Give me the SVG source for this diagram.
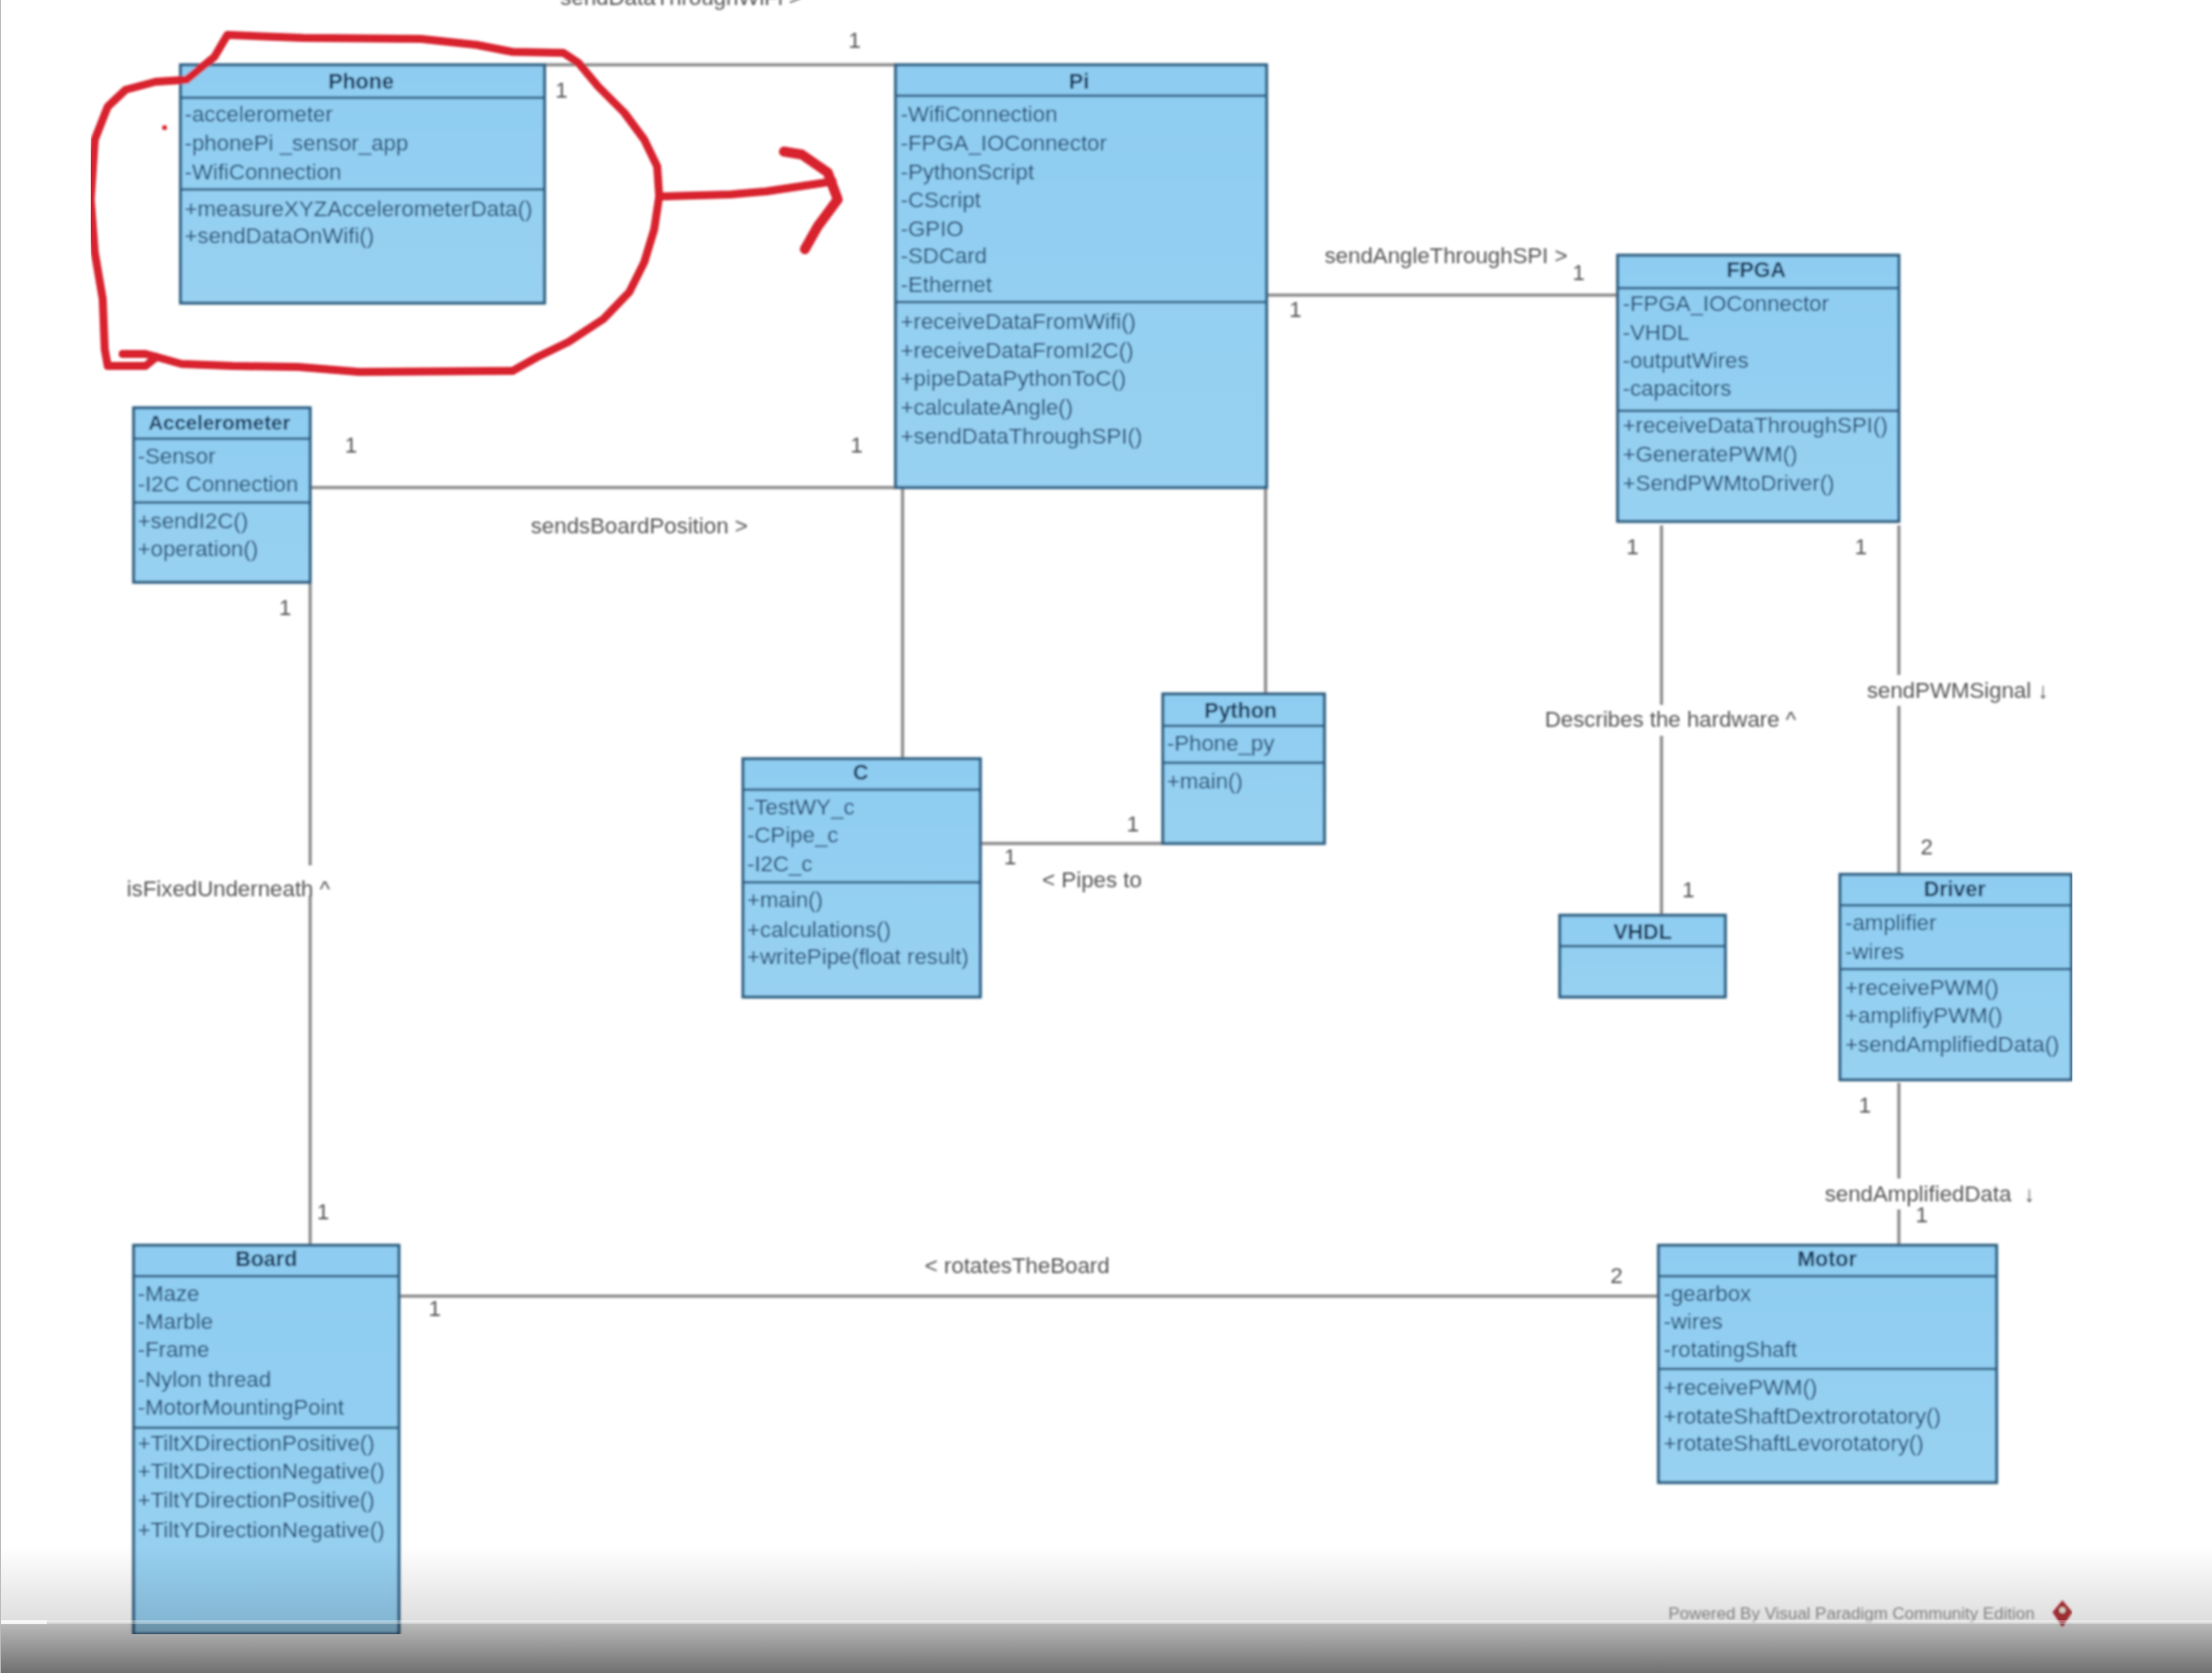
<svg xmlns="http://www.w3.org/2000/svg" width="2218" height="1678" viewBox="0 0 2218 1678">
<style>
text{font-family:"Liberation Sans",Arial,sans-serif;font-size:22.3px;fill:#21496f}
.t{font-weight:bold;text-anchor:middle;font-size:21.5px;fill:#16375a}
.c{fill:#555;text-anchor:middle}
.b{fill:url(#f);stroke:#2f5f82;stroke-width:3}
.s{stroke:#2f5f82;stroke-width:2.5;fill:none}
.k{stroke:#858585;stroke-width:3;fill:none}
.r{stroke:#d8222f;stroke-width:8;fill:none;stroke-linejoin:round;stroke-linecap:round}
</style>
<defs>
<linearGradient id="f" x1="0" y1="0" x2="0" y2="1"><stop offset="0" stop-color="#8ecdf1"/><stop offset="1" stop-color="#98d1f2"/></linearGradient>
<linearGradient id="v" x1="0" y1="0" x2="0" y2="1"><stop offset="0" stop-color="#000" stop-opacity="0"/><stop offset="0.6" stop-color="#000" stop-opacity="0.13"/><stop offset="0.61" stop-color="#000" stop-opacity="0.27"/><stop offset="1" stop-color="#000" stop-opacity="0.56"/></linearGradient>
<filter id="blur" x="0" y="0" width="1" height="1"><feGaussianBlur stdDeviation="1"/></filter>
</defs>
<rect width="2218" height="1678" fill="#fff"/>
<g filter="url(#blur)">
<g id="connectors">
<path class="k" d="M546 65H898M1270 296H1622M311 489H898M905 489V761M1269 489V696M983 846H1166M1666 527V707M1666 738V918M1904 527V677M1904 708V877M1904 1086V1182M1904 1213V1249M311 585V868M311 898V1249M400 1300H1663"/>
</g>
<g id="labels">
<text class="c" x="683" y="5">sendDataThroughWiFi &gt;</text>
<text class="c" x="641" y="535">sendsBoardPosition &gt;</text>
<text class="c" x="1450" y="264">sendAngleThroughSPI &gt;</text>
<text class="c" x="1963" y="700">sendPWMSignal ↓</text>
<text class="c" x="1675" y="729">Describes the hardware ^</text>
<text class="c" x="229" y="899">isFixedUnderneath ^</text>
<text class="c" x="1020" y="1277">&lt; rotatesTheBoard</text>
<text class="c" x="1935" y="1205" xml:space="preserve">sendAmplifiedData  ↓</text>
<text class="c" x="1095" y="890">&lt; Pipes to</text>
<text class="c" x="857" y="48">1</text><text class="c" x="563" y="98">1</text><text class="c" x="859" y="454">1</text><text class="c" x="352" y="454">1</text>
<text class="c" x="1583" y="281">1</text><text class="c" x="1299" y="318">1</text><text class="c" x="1637" y="556">1</text><text class="c" x="1866" y="556">1</text>
<text class="c" x="1693" y="900">1</text><text class="c" x="1932" y="857">2</text><text class="c" x="286" y="617">1</text><text class="c" x="324" y="1223">1</text>
<text class="c" x="436" y="1320">1</text><text class="c" x="1621" y="1287">2</text><text class="c" x="1927" y="1226">1</text><text class="c" x="1870" y="1116">1</text>
<text class="c" x="1136" y="834">1</text><text class="c" x="1013" y="867">1</text>
</g>
<g id="phone"><rect class="b" x="181" y="65" width="365" height="239"/><path class="s" d="M181 98H546M181 190H546"/>
<text class="t" x="362" y="89">Phone</text>
<text x="185" y="122">-accelerometer</text><text x="185" y="151">-phonePi _sensor_app</text><text x="185" y="180">-WifiConnection</text>
<text x="185" y="217">+measureXYZAccelerometerData()</text><text x="185" y="244">+sendDataOnWifi()</text></g>
<g id="pi"><rect class="b" x="898" y="65" width="372" height="424"/><path class="s" d="M898 96H1270M898 303H1270"/>
<text class="t" x="1082" y="89">Pi</text>
<text x="903" y="122">-WifiConnection</text><text x="903" y="151">-FPGA_IOConnector</text><text x="903" y="180">-PythonScript</text><text x="903" y="208">-CScript</text><text x="903" y="237">-GPIO</text><text x="903" y="264">-SDCard</text><text x="903" y="293">-Ethernet</text>
<text x="903" y="330">+receiveDataFromWifi()</text><text x="903" y="359">+receiveDataFromI2C()</text><text x="903" y="387">+pipeDataPythonToC()</text><text x="903" y="416">+calculateAngle()</text><text x="903" y="445">+sendDataThroughSPI()</text></g>
<g id="fpga"><rect class="b" x="1622" y="256" width="282" height="267"/><path class="s" d="M1622 289H1904M1622 412H1904"/>
<text class="t" x="1761" y="278">FPGA</text>
<text x="1627" y="312">-FPGA_IOConnector</text><text x="1627" y="341">-VHDL</text><text x="1627" y="369">-outputWires</text><text x="1627" y="397">-capacitors</text>
<text x="1627" y="434">+receiveDataThroughSPI()</text><text x="1627" y="463">+GeneratePWM()</text><text x="1627" y="492">+SendPWMtoDriver()</text></g>
<g id="accelerometer"><rect class="b" x="134" y="409" width="177" height="175"/><path class="s" d="M134 440H311M134 504H311"/>
<text class="t" x="220" y="431" style="font-size:20.5px">Accelerometer</text>
<text x="138" y="465">-Sensor</text><text x="138" y="493">-I2C Connection</text><text x="138" y="530">+sendI2C()</text><text x="138" y="558">+operation()</text></g>
<g id="c"><rect class="b" x="745" y="761" width="238" height="239"/><path class="s" d="M745 792H983M745 885H983"/>
<text class="t" x="863" y="782">C</text>
<text x="749" y="817">-TestWY_c</text><text x="749" y="845">-CPipe_c</text><text x="749" y="874">-I2C_c</text>
<text x="749" y="910">+main()</text><text x="749" y="940">+calculations()</text><text x="749" y="967">+writePipe(float result)</text></g>
<g id="python"><rect class="b" x="1166" y="696" width="162" height="150"/><path class="s" d="M1166 728H1328M1166 765H1328"/>
<text class="t" x="1244" y="720">Python</text>
<text x="1170" y="753">-Phone_py</text><text x="1170" y="791">+main()</text></g>
<g id="vhdl"><rect class="b" x="1564" y="918" width="166" height="82"/><path class="s" d="M1564 949H1730"/>
<text class="t" x="1647" y="942">VHDL</text></g>
<g id="driver"><rect class="b" x="1845" y="877" width="232" height="206"/><path class="s" d="M1845 908H2077M1845 972H2077"/>
<text class="t" x="1960" y="899">Driver</text>
<text x="1850" y="933">-amplifier</text><text x="1850" y="962">-wires</text>
<text x="1850" y="998">+receivePWM()</text><text x="1850" y="1026">+amplifiyPWM()</text><text x="1850" y="1055">+sendAmplifiedData()</text></g>
<g id="board"><rect class="b" x="134" y="1249" width="266" height="390"/><path class="s" d="M134 1280H400M134 1432H400"/>
<text class="t" x="267" y="1270">Board</text>
<text x="138" y="1305">-Maze</text><text x="138" y="1333">-Marble</text><text x="138" y="1361">-Frame</text><text x="138" y="1391">-Nylon thread</text><text x="138" y="1419">-MotorMountingPoint</text>
<text x="138" y="1455">+TiltXDirectionPositive()</text><text x="138" y="1483">+TiltXDirectionNegative()</text><text x="138" y="1512">+TiltYDirectionPositive()</text><text x="138" y="1542">+TiltYDirectionNegative()</text></g>
<g id="motor"><rect class="b" x="1663" y="1249" width="339" height="238"/><path class="s" d="M1663 1280H2002M1663 1373H2002"/>
<text class="t" x="1832" y="1270">Motor</text>
<text x="1668" y="1305">-gearbox</text><text x="1668" y="1333">-wires</text><text x="1668" y="1361">-rotatingShaft</text>
<text x="1668" y="1399">+receivePWM()</text><text x="1668" y="1428">+rotateShaftDextrorotatory()</text><text x="1668" y="1455">+rotateShaftLevorotatory()</text></g>
<g id="annotation">
<path class="r" d="M123 355L146 355L157 358L182 365L233 367L299 368L360 373L514 372L539 358L570 343L605 320L631 293L646 263L656 230L661 197L659 167L646 140L626 113L600 87L580 63L565 53L514 52L478 45L422 39L304 38L228 35L215 57L187 80L156 82L126 90L108 107L95 140L91 200L95 253L103 300L105 350L108 367L146 367L157 358"/>
<path class="r" d="M664 197L733 195L768 192L835 182"/>
<path class="r" style="stroke-width:10" d="M786 152L804 155L830 173L840 200L820 227L807 250"/>
<circle cx="165" cy="128" r="2.5" fill="#d8222f"/>
</g>
<g id="watermark">
<text x="1673" y="1624" style="font-size:17px;fill:#909090">Powered By  Visual Paradigm Community Edition</text>
<path d="M2068 1605L2078 1617L2068 1632L2058 1617Z" fill="#b23038"/><circle cx="2068" cy="1615" r="3" fill="#eed"/>
</g>
</g>
<rect x="0" y="1550" width="2218" height="128" fill="url(#v)"/>
<rect x="0" y="1625" width="2218" height="4" fill="#fff" opacity="0.3"/>
<rect x="0" y="1625" width="47" height="4" fill="#fff" opacity="0.7"/>
<rect x="0" y="0" width="1" height="1678" fill="#bbb"/>
</svg>
